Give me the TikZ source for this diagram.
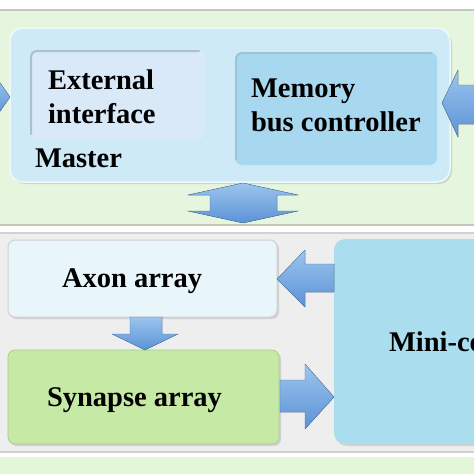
\documentclass[tikz,border=0pt]{standalone}
\usepackage{fontspec}
\setmainfont{Liberation Serif}
\usetikzlibrary{fit,shadows}
\definecolor{toppanel}{HTML}{E6F5DE}
\definecolor{topedge}{HTML}{BFCBB8}
\definecolor{botpanel}{HTML}{EEEEEE}
\definecolor{botedge}{HTML}{D2D2D2}
\definecolor{greenstrip}{HTML}{E4F6DA}
\definecolor{masterfill}{HTML}{CDEAF6}
\definecolor{extfill}{HTML}{D9E9F8}
\definecolor{memfill}{HTML}{A8D8F0}
\definecolor{axonfill}{HTML}{E8F6FB}
\definecolor{synfill}{HTML}{C6EAA6}
\definecolor{minifill}{HTML}{AADDEE}
\definecolor{arrowlight}{HTML}{9CC5EE}
\definecolor{arrowdark}{HTML}{5B92D6}
\definecolor{insetedge}{HTML}{8E9EA8}
\tikzset{
  panel/.style={inner sep=0pt, outer sep=0pt},
  box/.style={inner sep=0pt, outer sep=0pt, rounded corners=7pt},
  softshadow/.style={general shadow={fill=black, opacity=0.12, shadow xshift=2pt, shadow yshift=-2pt}},
  lbl/.style={inner sep=0pt, outer sep=0pt, font=\fontsize{28.5}{34}\selectfont\bfseries, text=black},
  blockarrow/.style={top color=arrowlight, bottom color=arrowdark, draw=arrowdark!80!black, line width=0.3pt},
  inset/.style={draw=insetedge, line width=2.2pt, line cap=round, opacity=0.55, rounded corners=6pt}
}
\begin{document}
\begin{tikzpicture}[x=1pt,y=-1pt]
\useasboundingbox (0,0) rectangle (474,474);
\clip (0,0) rectangle (474,474);
\fill[white] (0,0) rectangle (474,474);

% ---------- top panel ----------
\node[panel, fill=toppanel, draw=topedge, line width=1.5pt, fit={(-10,10) (484,225)}] (top) {};
\node[box, rounded corners=13pt, fill=masterfill, draw=white!70!masterfill, line width=1.5pt, softshadow, fit={(10,28) (450,182)}] (master) {};
\node[box, fill=extfill, fit={(30,50) (205,140)}] (ext) {};
\begin{scope}
  \clip[rounded corners=7pt] (ext.south west) rectangle (ext.north east);
  \draw[inset] ([shift={(1pt,6pt)}]ext.south west) -- ([shift={(1pt,-1pt)}]ext.north west) -- ([shift={(-6pt,-1pt)}]ext.north east);
\end{scope}
\node[box, fill=memfill, fit={(235,52) (437,165)}] (mem) {};
\begin{scope}
  \clip[rounded corners=7pt] (mem.south west) rectangle (mem.north east);
  \draw[inset, opacity=0.35] ([shift={(1pt,6pt)}]mem.south west) -- ([shift={(1pt,-1pt)}]mem.north west) -- ([shift={(-6pt,-1pt)}]mem.north east);
\end{scope}

\node[lbl, anchor=base west] (tExt) at (48,89) {External};
\node[lbl, anchor=base west] (tInt) at (48,123) {interface};
\node[lbl, anchor=base west] (tMaster) at (35,167) {Master};
\node[lbl, anchor=base west] (tMem) at (251,97) {Memory};
\node[lbl, anchor=base west] (tBus) at (251,131) {bus controller};

% side arrows of the top panel
\fill[blockarrow] (-20,86) -- (-4,86) -- (-4,77) -- (10,97) -- (-4,117) -- (-4,108) -- (-20,108) -- cycle;
\fill[blockarrow] (490,85) -- (458,85) -- (458,70) -- (442,103) -- (458,137) -- (458,124) -- (490,124) -- cycle;

% double arrow between the panels
\fill[blockarrow] (243,183) -- (298,195) -- (277,195) -- (277,211) -- (298,211) -- (243,223) -- (188,211) -- (210,211) -- (210,195) -- (188,195) -- cycle;

% ---------- bottom panel ----------
\node[panel, fill=botpanel, draw=botedge, line width=1.5pt, fit={(-10,233) (484,452)}] (bot) {};
\node[panel, fill=greenstrip, fit={(-10,457) (484,480)}] (strip) {};

\node[box, fill=axonfill, draw=black!18, line width=1pt, softshadow, fit={(8,240) (277,317)}] (axon) {};
\node[box, fill=synfill, draw=synfill!85!black, line width=0.6pt, softshadow, fit={(8,350) (279,444)}] (syn) {};
\node[box, rounded corners=11pt, fill=minifill, softshadow, fit={(334,239) (500,444)}] (mini) {};

\node[lbl, anchor=base west] (tAxon) at (62,287) {Axon array};
\node[lbl, anchor=base west] (tSyn) at (47,406) {Synapse array};
\node[lbl, anchor=base west] (tMini) at (389,351) {Mini-core};

% arrows of the bottom panel
\fill[blockarrow] (130,317) -- (162,317) -- (162,334) -- (178,334) -- (145,350) -- (112,334) -- (130,334) -- cycle;
\fill[blockarrow] (334,264) -- (305,264) -- (305,250) -- (277,279) -- (305,307) -- (305,292) -- (334,292) -- cycle;
\fill[blockarrow] (280,380) -- (305,380) -- (305,364) -- (334,397) -- (305,429) -- (305,412) -- (280,412) -- cycle;
\end{tikzpicture}
\end{document}
